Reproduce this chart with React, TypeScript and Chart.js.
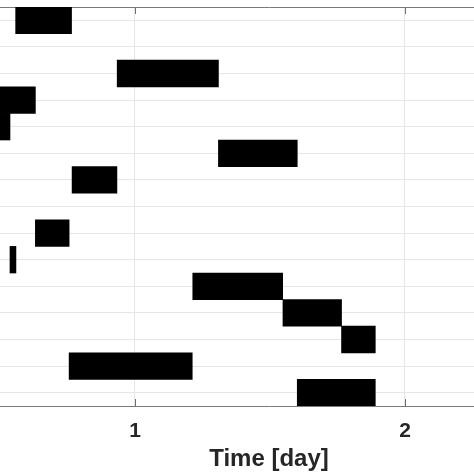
import React, { useEffect, useRef } from "react";
import { Chart, registerables } from "chart.js";

Chart.register(...registerables);

const taskLabels = [
  "T1", "T2", "T3", "T4", "T5", "T6", "T7", "T8",
  "T9", "T10", "T11", "T12", "T13", "T14", "T15",
];
const taskStart: (number | null)[] = [
  0.558, null, 0.934, 0.43, 0.45, 1.309, 0.767, null,
  0.631, 0.537, 1.214, 1.548, 1.765, 0.756, 1.601,
];
const taskEnd: (number | null)[] = [
  0.765, null, 1.309, 0.631, 0.537, 1.601, 0.933, null,
  0.756, 0.559, 1.547, 1.765, 1.89, 1.212, 1.89,
];
const xTickValues = [1, 2];
const xMin = 0.5;
const xMax = 2.4926;
const xTitle = "Time [day]";

const W = 538;
const H = 474;

export default function App() {
  const ref = useRef<HTMLCanvasElement | null>(null);

  useEffect(() => {
    if (!ref.current) return;
    const data = taskStart.map((s, i) =>
      s === null || taskEnd[i] === null ? null : [s, taskEnd[i] as number]
    );

    const inwardTicks = {
      id: "inwardTicks",
      afterDraw(chart: any) {
        const { ctx, chartArea, scales } = chart;
        const xs = scales.x;
        ctx.save();
        ctx.strokeStyle = "#6e6e6e";
        ctx.lineWidth = 1;
        xTickValues.forEach((v) => {
          const px = Math.round(xs.getPixelForValue(v)) + 0.5;
          ctx.beginPath();
          ctx.moveTo(px, chartArea.bottom);
          ctx.lineTo(px, chartArea.bottom - 7);
          ctx.moveTo(px, chartArea.top);
          ctx.lineTo(px, chartArea.top + 7);
          ctx.stroke();
        });
        ctx.restore();
      },
    };

    const setTicks = (scale: any) => {
      scale.ticks = xTickValues.map((v) => ({ value: v }));
    };

    const chart = new Chart(ref.current, {
      type: "bar",
      data: {
        labels: taskLabels,
        datasets: [
          {
            data: data as any,
            backgroundColor: "#000000",
            borderColor: "#3a3a3a",
            borderWidth: 0,
            barPercentage: 1,
            categoryPercentage: 1,
          },
        ],
      },
      plugins: [inwardTicks],
      options: {
        indexAxis: "y",
        responsive: false,
        animation: false,
        layout: { padding: { top: 7, left: 0, right: 0, bottom: 0 } },
        plugins: {
          legend: { display: false },
          tooltip: { enabled: false },
        },
        scales: {
          x: {
            type: "linear",
            position: "bottom",
            min: xMin,
            max: xMax,
            afterBuildTicks: setTicks,
            afterFit: (scale: any) => {
              scale.height = 68;
            },
            grid: {
              color: "#e6e6e6",
              lineWidth: 1,
              drawTicks: false,
            },
            border: { display: true, color: "#7a7a7a", width: 1 },
            ticks: {
              color: "#262626",
              padding: 13,
              font: { family: "Liberation Sans, Arial, sans-serif", size: 21, weight: "bold" },
            },
            title: {
              display: true,
              text: xTitle,
              color: "#262626",
              padding: { top: 0, bottom: 0 },
              font: { family: "Liberation Sans, Arial, sans-serif", size: 24, weight: "bold" },
            },
          },
          xTop: {
            type: "linear",
            position: "top",
            axis: "x",
            min: xMin,
            max: xMax,
            afterBuildTicks: setTicks,
            grid: { display: true, drawOnChartArea: false, drawTicks: false },
            border: { display: true, color: "#7a7a7a", width: 1 },
            ticks: { display: false },
          },
          y: {
            type: "category",
            offset: true,
            grid: {
              color: "#e6e6e6",
              lineWidth: 1,
              drawTicks: false,
              offset: false,
            },
            border: { display: false },
            ticks: { display: false },
          },
        } as any,
      },
    });
    return () => chart.destroy();
  }, []);

  return (
    <div
      style={{
        position: "fixed",
        left: 0,
        top: 0,
        width: 474,
        height: 474,
        overflow: "hidden",
        background: "#ffffff",
      }}
    >
      <canvas ref={ref} width={W} height={H} style={{ width: W, height: H, display: "block" }} />
    </div>
  );
}
